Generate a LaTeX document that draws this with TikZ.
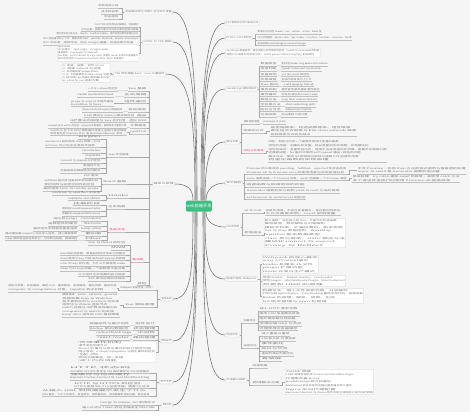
\documentclass[tikz,border=0pt]{standalone}
\usepackage{fontspec}
\setmainfont{Noto Sans CJK SC}
\usepackage{graphicx}
\definecolor{bgc}{HTML}{F5F5F5}
\definecolor{txc}{HTML}{767676}
\definecolor{crvc}{HTML}{707070}
\definecolor{cnc}{HTML}{A8A8A8}
\definecolor{ulc}{HTML}{C0C0C0}
\definecolor{bxc}{HTML}{CDCDCD}
\definecolor{ctrg}{HTML}{3DBE83}
\definecolor{redt}{HTML}{E8406E}
\newcommand\T[2]{\resizebox{#1pt}{1.9pt}{#2}}
\newcommand\LR[4]{\node[lf,anchor=west] (#1) at (#2) {\T{#3}{#4}};}
\newcommand\LL[4]{\node[lf,anchor=east] (#1) at (#2) {\T{#3}{#4}};}
\newcommand\cc[3]{\draw[cn] (#1) -- ++(#3,0) |- (#2);}
\newcommand\cv[4]{\draw[crv] (#1) .. controls +(0,#3) and +(#4,0) .. (#2);}
\begin{document}
\begin{tikzpicture}[x=1pt,y=-1pt,
 lf/.style={font=\fontsize{3}{3.6}\selectfont, text=txc, inner xsep=0.4pt, inner ysep=0.5pt, align=left,
   append after command={(\tikzlastnode.south west) edge[ul] (\tikzlastnode.south east)}},
 ul/.style={draw=ulc, line width=0.3pt},
 ctr/.style={fill=ctrg, rounded corners=1.5pt, text=white, font=\fontsize{4.2}{5}\selectfont, minimum width=25pt, minimum height=11pt, inner sep=0.5pt},
 l1/.style={draw=bxc, fill=white, rounded corners=1pt, line width=0.3pt, inner xsep=1.2pt, inner ysep=0.9pt, font=\fontsize{3}{3.6}\selectfont, text=txc, align=left},
 bx/.style={draw=bxc, fill=white, rounded corners=0.6pt, line width=0.25pt, inner sep=0.8pt, font=\fontsize{3}{3.6}\selectfont, text=txc, align=left},
 cn/.style={draw=cnc, line width=0.3pt},
 crv/.style={draw=crvc, line width=0.55pt}]
\fill[white] (0,0) rectangle (474,417);
\useasboundingbox (0,0) rectangle (474,417);
\fill[bgc] (0,0) rectangle (470,412);

\node[ctr] (c) at (199,206) {web前端开发};

% ---------------- right level 1
\node[l1,anchor=west] (R1) at (225,23) {\T{32}{CSS 盒模型与常见布局方式}};
\node[l1,anchor=west] (R2) at (225,38) {\T{25}{HTML5 / CSS3 新特性}};
\node[l1,anchor=west] (R3) at (225,53) {\T{93}{JavaScript 数据类型：基本类型与引用类型的区别，typeof 与 instanceof 的判断}\\\T{88}{深拷贝与浅拷贝的实现方式，JSON.parse(JSON.stringify()) 的局限性}};
\node[l1,anchor=west] (R4) at (225,89) {\T{30}{JavaScript 基础知识}};
\node[l1,anchor=west] (R5) at (225,142) {\T{12}{面向对象}};
\node[l1,anchor=west] (R6) at (225,183) {\T{15}{异步编程}};
\node[l1,anchor=west] (R7) at (225,227) {\T{13}{ES6 新特性}};
\node[l1,anchor=west] (R8) at (225,279) {\T{30}{前端工程化 Webpack}};
\node[l1,anchor=west] (R9) at (225,335) {\T{12}{性能优化}};
\node[l1,anchor=west] (R10) at (225,380) {\T{19}{浏览器与网络}};

% ---------------- left level 1
\node[l1,anchor=east] (L1) at (173,12) {\T{46}{前端面试常见问题汇总与知识储备}};
\node[l1,anchor=east] (L2) at (173,42) {\T{28}{HTML 与 CSS 基础}};
\node[l1,anchor=east] (L3) at (166,74) {\T{50}{CSS 预处理器 Sass、Less 与兼容性}};
\node[l1,anchor=east] (L4) at (175,184) {\T{20}{框架与原理}};
\node[l1,anchor=east] (L5) at (173,299) {\T{10}{Vue}};
\node[l1,anchor=east] (L6) at (173,341) {\T{10}{React}};
\node[l1,anchor=east] (L7) at (173,382) {\T{11}{HTTP}};
\node[l1,anchor=east] (L8) at (173,405) {\T{9}{其他}};

% ---------------- main curves
\cv{[xshift=2pt]c.north}{R1.west}{-124}{-18}
\cv{[xshift=3pt]c.north}{R2.west}{-113}{-18}
\cv{[xshift=4pt]c.north}{R3.west}{-103}{-18}
\cv{[xshift=5pt]c.north}{R4.west}{-78}{-18}
\cv{[xshift=6pt]c.north}{R5.west}{-41}{-15}
\cv{[xshift=7pt]c.north}{R6.west}{-12}{-10}
\cv{[xshift=7pt]c.south}{R7.west}{11}{-10}
\cv{[xshift=6pt]c.south}{R8.west}{47}{-18}
\cv{[xshift=5pt]c.south}{R9.west}{86}{-18}
\cv{[xshift=4pt]c.south}{R10.west}{118}{-18}
\cv{[xshift=-2pt]c.north}{L1.east}{-132}{18}
\cv{[xshift=-3pt]c.north}{L2.east}{-111}{18}
\cv{[xshift=-4pt]c.north}{L3.east}{-89}{24}
\cv{[xshift=-6pt]c.north}{L4.east}{-12}{12}
\cv{[xshift=-6pt]c.south}{L5.east}{61}{18}
\cv{[xshift=-4pt]c.south}{L6.east}{91}{18}
\cv{[xshift=-3pt]c.south}{L7.east}{119}{18}
\cv{[xshift=-2pt]c.south}{L8.east}{135}{18}

% ---------------- R2
\LR{r2a}{257,32}{64}{新增语义化标签 header、nav、section、article、footer 等}
\LR{r2b}{257,38}{94}{CSS3 新增属性：border-radius、box-shadow、transform、transition、animation、flex 等}
\LR{r2c}{257,43.5}{48}{本地存储 localStorage 与 sessionStorage}
\foreach \n in {a,b,c} {\cc{R2.east}{r2\n.south west}{2}}

% ---------------- R4
\LR{r4a}{260,64}{16}{数据类型} \LR{r4a2}{281,64}{46}{基本类型 Number String Boolean Null Undefined}
\LR{r4b}{260,69.1}{16}{类型判断} \LR{r4b2}{281,69.1}{40}{typeof instanceof constructor}
\LR{r4c}{260,74.2}{16}{变量声明} \LR{r4c2}{281,74.2}{28}{var let const 的区别}
\LR{r4d}{260,79.3}{16}{作用域链} \LR{r4d2}{281,79.3}{30}{词法作用域 执行上下文}
\LR{r4e}{260,84.4}{18}{this 指向} \LR{r4e2}{283,84.4}{30}{call apply bind}
\LR{r4f}{260,89.5}{16}{事件机制} \LR{r4f2}{281,89.5}{38}{事件冒泡 事件捕获 事件委托}
\LR{r4g}{260,94.6}{16}{事件循环} \LR{r4g2}{281,94.6}{36}{宏任务 微任务 Event Loop}
\LR{r4h}{260,99.7}{16}{数组方法} \LR{r4h2}{281,99.7}{36}{map filter reduce forEach}
\LR{r4i}{260,104.8}{20}{字符串方法} \LR{r4i2}{285,104.8}{30}{slice substring split}
\LR{r4j}{260,109.9}{20}{防抖与节流} \LR{r4j2}{285,109.9}{26}{debounce throttle}
\LR{r4k}{260,115}{16}{垃圾回收} \LR{r4k2}{281,115}{26}{标记清除 引用计数}
\foreach \n in {a,b,c,d,e,f,g,h,i,j,k} {\cc{R4.east}{r4\n.south west}{1.3}
  \draw[cn] (r4\n.south east) -- (r4\n2.south west);}

% ---------------- R5
\LR{r5a}{243,122}{16}{原型链} \LR{r5a2}{263,122}{22}{prototype 与 proto}
\LR{r5b}{243,131}{20}{继承的方式}
\node[lf,anchor=west] (r5b2) at (270,131) {\T{80}{原型链继承、构造函数继承、组合继承}\\\T{86}{寄生组合式继承与 ES6 class extends 继承}\\\T{40}{各种继承方式的优缺点}};
\node[lf,anchor=west,text=redt] (r5c) at (243,151) {\T{20}{闭包与作用域}};
\node[lf,anchor=west] (r5c2) at (268,151) {\T{70}{闭包：有权访问另一个函数作用域中变量的函数}\\\T{100}{闭包的用途：创建私有变量、延长变量的生命周期、实现模块化}\\\T{118}{闭包的缺点：变量常驻内存，使用不当会造成内存泄漏，需要手动释放引用}\\\T{92}{经典面试题：for 循环中使用 setTimeout 输出 i 的值的问题}\\\T{90}{解决方法：使用 let 声明或立即执行函数 IIFE 创建作用域}\\\T{60}{柯里化函数的实现原理}};
\foreach \n in {a,b,c} {\cc{R5.east}{r5\n.south west}{1.5}}
\draw[cn] (r5a.south east) -- (r5a2.south west);
\cc{r5b.south east}{r5b2.west}{2}
\cc{r5c.south east}{r5c2.west}{2}

% ---------------- R6
\node[lf,anchor=west] (r6a) at (246,170.5) {\T{100}{Promise 的三种状态 pending、fulfilled、rejected 及状态改变}\\\T{98}{Promise.all 与 Promise.race 的使用场景与实现原理分析}};
\node[lf,anchor=west] (r6a2) at (357,170.5) {\T{108}{手写 Promise：实现 then 方法的链式调用与值穿透的处理}\\\T{82}{async 与 await 是 Generator 函数的语法糖}};
\LR{r6b}{246,178.5}{100}{async 函数返回一个 Promise 对象，await 后面跟一个 Promise 或值}
\node[lf,anchor=west] (r6b2) at (352,178.5) {\T{107}{错误处理：try catch 捕获 await 的异常，或使用 catch 方法}\\\T{98}{多个请求并发执行时使用 Promise.all 提高效率}};
\LR{r6c}{246,185}{58}{回调函数与回调地狱的问题}
\LR{r6d}{246,191}{93}{Generator 函数的执行机制 yield 与 next 方法的使用}
\LR{r6e}{246,197.5}{59}{setTimeout 与 setInterval 的区别}
\foreach \n in {a,b,c,d,e} {\cc{R6.east}{r6\n.south west}{1}}
\draw[cn] (r6a.south east) -- ++(2,0) |- (r6a2.west);
\draw[cn] (r6b.south east) -- ++(2,0) |- (r6b2.west);

% ---------------- R7
\LR{r7a}{244,211}{17}{let 与 const}
\node[lf,anchor=west] (r7a2) at (265,212) {\T{75}{块级作用域，不存在变量提升，存在暂时性死区}\\\T{70}{不允许重复声明，const 声明常量}};
\LR{r7b}{244,233}{17}{新增语法}
\node[bx,anchor=west] (r7b2) at (264,233) {\T{72}{箭头函数：没有自己的 this，不能作为构造函数}\\\T{60}{解构赋值：数组解构与对象解构}\\\T{78}{模板字符串、扩展运算符、剩余参数}\\\T{66}{Set 与 Map 数据结构，WeakMap}\\\T{55}{Symbol 基本数据类型}\\\T{80}{class 类与继承，static 静态方法}\\\T{70}{模块化 import 与 export}\\\T{58}{Proxy 与 Reflect}};
\foreach \n in {a,b} {\cc{R7.east}{r7\n.south west}{1.5}}
\cc{r7a.south east}{r7a2.west}{2}
\cc{r7b.south east}{r7b2.west}{1.5}

% ---------------- R8
\node[bx,anchor=west] (r8a) at (262,264.5) {\T{55}{Webpack 的核心概念}\\\T{45}{entry 入口 output 输出}\\\T{50}{loader 处理非 JS 文件}\\\T{40}{plugin 扩展功能}\\\T{52}{mode 开发与生产模式}};
\node[bx,anchor=west] (r8b) at (262,281) {\T{70}{常用 loader：babel-loader、css-loader}\\\T{82}{常用 plugin：HtmlWebpackPlugin、MiniCssExtract}\\\T{60}{热更新 HMR 的原理}};
\node[bx,anchor=west] (r8c) at (262,296) {\T{85}{构建优化：缩小文件搜索范围、开启缓存}\\\T{100}{代码分割 SplitChunks、Tree Shaking 删除无用代码、按需加载}\\\T{72}{Babel 的原理：解析、转换、生成}\\\T{64}{Git 版本管理与 npm 包管理}};
\foreach \n in {a,b,c} {\cc{R8.east}{r8\n.west}{2}}

% ---------------- R9
\LR{r9a}{243,321}{12}{加载优化}
\LR{r9a1}{259,309}{38}{减少 HTTP 请求次数}
\LR{r9a2}{259,314}{40}{使用 CDN 加速静态资源}
\LR{r9a3}{259,319}{36}{图片懒加载与预加载}
\LR{r9a4}{259,324}{42}{资源压缩 Gzip 与合并}
\LR{r9a5}{259,328.5}{38}{合理使用浏览器缓存}
\LR{r9b}{243,346}{13}{渲染优化}
\LR{r9b1}{261,334}{28}{减少重排与重绘}
\LR{r9b2}{261,339}{34}{CSS 放头部 JS 放底部}
\LR{r9b3}{261,344}{22}{事件委托}
\LR{r9b4}{261,349}{26}{防抖与节流}
\LR{r9b5}{261,354}{32}{虚拟列表长列表优化}
\LR{r9b6}{261,359}{20}{骨架屏}
\foreach \n in {a,b} {\cc{R9.east}{r9\n.south west}{1.5}}
\foreach \n in {1,2,3,4,5} {\cc{r9a.south east}{r9a\n.south west}{1.5}}
\foreach \n in {1,2,3,4,5,6} {\cc{r9b.south east}{r9b\n.south west}{1.5}}

% ---------------- R10
\LR{r10a}{252,366}{15}{同源策略}
\LR{r10b}{252,383}{27}{跨域解决方案}
\node[bx,anchor=west] (r10b2) at (285,382) {\T{25}{JSONP 原理}\\\T{68}{CORS 跨域资源共享 Access-Control-Allow-Origin}\\\T{34}{代理服务器 proxy}\\\T{45}{postMessage 跨文档通信}\\\T{66}{WebSocket 协议实现浏览器与服务器全双工通信}\\\T{50}{Nginx 反向代理配置}\\\T{87}{document.domain 与 iframe 结合实现主域相同子域不同的跨域}};
\foreach \n in {a,b} {\cc{R10.east}{r10\n.south west}{2}}
\cc{r10b.south east}{r10b2.west}{2}

% ---------------- L1
\LL{l1a}{119,6}{20}{项目经验介绍}
\LL{l1b}{119,12}{17}{技术栈说明}
\LL{l1c}{119,17}{14}{职业规划}
\foreach \n in {a,b,c} {\cc{L1.west}{l1\n.south east}{-2}}

% ---------------- L2
\LL{l2a}{139,25}{43}{DOCTYPE 的作用与标准模式、怪异模式}
\LL{l2b}{139,29.5}{57}{行内元素、块级元素与行内块元素的区别与转换}
\LL{l2c}{139,34}{82}{清除浮动的几种方法：clearfix、overflow hidden、额外标签法等的原理与对比}
\node[lf,anchor=east] (l2d) at (139,41) {\T{95}{BFC 块级格式化上下文：触发条件 float、position absolute、display inline-block}\\\T{90}{BFC 的应用：清除浮动、防止 margin 重叠、自适应两栏布局}};
\node[bx,anchor=east,font=\fontsize{3}{3.1}\selectfont] (l2e) at (139,53) {\T{12}{居中布局}\\\T{50}{水平居中：text-align、margin auto}\\\T{40}{垂直居中：line-height 与 table-cell}\\\T{80}{flex 布局：justify-content 与 align-items 设置为 center 实现水平垂直居中}\\\T{66}{绝对定位结合 transform translate(-50\%,-50\%) 实现居中}};
\foreach \n in {a,b,c,d} {\cc{L2.west}{l2\n.south east}{-2}}
\cc{L2.west}{l2e.east}{-2}

% ---------------- L3
\node[bx,anchor=east,font=\fontsize{3}{3.1}\selectfont] (l3a) at (110,73) {\T{41}{1. 变量、嵌套、混合 mixin}\\\T{38}{2. 继承 extend 与运算}\\\T{35}{3. 浏览器前缀 autoprefixer}\\\T{46}{4. IE 下的盒模型与 box-sizing 问题}\\\T{46}{5. 移动端 1px 边框问题的解决方法}\\\T{36}{6. rem 与 vw 适配方案}};
\cc{L3.west}{l3a.east}{-2}

% ---------------- L4
\LL{l4a}{147,89}{18}{Vue 基础} \LL{l4a2}{118,89}{29}{v-if 与 v-show 的区别}
\LL{l4b}{147,95}{22}{生命周期} \LL{l4b2}{114,95}{36}{created mounted destroyed}
\LL{l4c}{147,101.5}{22}{组件通信}
\node[lf,anchor=east] (l4c2) at (114,103) {\T{42}{props 与 emit 父子组件通信}\\\T{30}{EventBus 与 Vuex}};
\LL{l4d}{147,110}{18}{双向绑定} \LL{l4d2}{123,110}{40}{Object.defineProperty 数据劫持}
\LL{l4e}{147,115.5}{9}{路由} \LL{l4e2}{135,115.5}{50}{hash 模式与 history 模式的区别}
\LL{l4f}{147,120.5}{17}{虚拟 DOM} \LL{l4f2}{126,120.5}{55}{diff 算法的原理与 key 的作用}
\LL{l4g}{147,126}{16}{计算属性} \LL{l4g2}{127,126}{78}{computed 与 watch 的区别：computed 有缓存，依赖改变才重新计算}
\LL{l4h}{147,132}{16}{nextTick}
\node[lf,anchor=east] (l4h2) at (127,132) {\T{76}{nextTick 在下次 DOM 更新循环结束之后执行延迟回调}\\\T{72}{利用微任务 Promise.then 或 MutationObserver 实现}};
\LL{l4i}{129,155}{20}{Vuex 状态管理}
\LL{l4i1}{101,137}{22}{state getters}
\node[lf,anchor=east] (l4i2) at (101,143.5) {\T{55}{mutations 同步修改 state 的唯一方法}\\\T{50}{actions 可以包含任意异步操作}};
\LL{l4i3}{101,151}{18}{modules}
\LL{l4i4}{101,156}{15}{mapState}
\LL{l4i5}{101,161}{40}{commit 与 dispatch 的区别}
\LL{l4i6}{101,166}{17}{数据持久化}
\LL{l4i7}{101,171}{40}{页面刷新后数据丢失的解决}
\LL{l4j}{127,182}{23}{React 基础}
\LL{l4j1}{99,176}{15}{JSX 语法}
\node[lf,anchor=east] (l4j2) at (99,182.5) {\T{54}{setState 是同步还是异步的问题分析}\\\T{50}{受控组件与非受控组件的区别}};
\LL{l4j3}{99,189}{55}{高阶组件 HOC 与 render props}
\LL{l4k}{129,196}{20}{Hooks}
\LL{l4k1}{101,193}{48}{useState 与 useEffect 的使用}
\LL{l4k2}{101,198.5}{32}{useMemo useCallback}
\LL{l4l}{126,207}{17}{生命周期}
\LL{l4l1}{101,203.5}{27}{挂载阶段}
\LL{l4l2}{101,209}{38}{更新阶段 shouldComponentUpdate}
\LL{l4l3}{101,214}{38}{卸载阶段 componentWillUnmount}
\node[lf,anchor=east,text=redt] (l4m) at (126,230) {\T{16}{性能优化}};
\LL{l4m1}{102,219}{20}{PureComponent} \LL{l4m12}{78,219}{24}{浅比较 props}
\LL{l4m2}{102,224}{17}{React.memo} \LL{l4m22}{78,224}{29}{函数组件的缓存}
\LL{l4m3}{102,229}{20}{keep-alive} \LL{l4m32}{78,229}{44}{缓存组件实例避免重复渲染}
\LL{l4m4}{102,234}{16}{懒加载} \LL{l4m42}{78,234}{72}{路由懒加载 import() 动态导入组件，减少首屏体积}
\LL{l4m5}{102,238.5}{16}{Fiber} \LL{l4m52}{78,238.5}{72}{Fiber 架构将渲染任务拆分，可中断与恢复，提高响应}
\node[lf,anchor=east,text=redt] (l4n) at (144,260) {\T{11}{面试题}};
\LL{l4n1}{126,243}{37}{Vue 与 React 的区别}
\LL{l4n2}{126,248}{14}{MVVM}
\LL{l4n3}{126,253.5}{65}{Vue 响应式原理：数据劫持结合发布订阅模式}
\LL{l4n4}{126,258.7}{65}{Vue3 使用 Proxy 代替 defineProperty 的原因}
\LL{l4n5}{126,263.8}{65}{v-for 中 key 的作用，为什么不推荐用 index}
\LL{l4n6}{126,269}{65}{data 为什么必须是一个函数而不是对象}
\LL{l4n7}{126,274.3}{47}{父子组件生命周期的执行顺序}
\LL{l4n8}{126,279}{37}{SPA 单页应用的优缺点}
\LL{l4o}{147,283.5}{9}{其他}
\foreach \n in {a,b,c,d,e,f,g,h,i,j,k,l,m,n,o} {\cc{L4.west}{l4\n.south east}{-3.6}}
\foreach \n in {a,b,d,e,f,g} {\draw[cn] (l4\n.south west) -- (l4\n2.south east);}
\cc{l4c.south west}{l4c2.east}{-2}
\cc{l4h.south west}{l4h2.east}{-1}
\foreach \n in {1,2,3,4,5,6,7} {\cc{l4i.south west}{l4i\n.south east}{-2}}
\foreach \n in {1,2,3} {\cc{l4j.south west}{l4j\n.south east}{-2}}
\foreach \n in {1,2} {\cc{l4k.south west}{l4k\n.south east}{-2}}
\foreach \n in {1,2,3} {\cc{l4l.south west}{l4l\n.south east}{-2}}
\foreach \n in {1,2,3,4,5} {\cc{l4m.south west}{l4m\n.south east}{-2}
  \draw[cn] (l4m\n.south west) -- (l4m\n2.south east);}
\foreach \n in {1,2,3,4,5,6,7,8} {\cc{l4n.south west}{l4n\n.south east}{-2}}

% ---------------- L5
\LL{l5a}{155,288}{34}{Webpack 构建流程（常考）}
\node[lf,anchor=east] (l5a2) at (117,288) {\T{108}{初始化参数、开始编译、确定入口、编译模块、完成编译、输出资源、输出完成}\\\T{95}{compiler 与 compilation 对象，tapable 钩子机制}};
\LL{l5b}{155,305}{29}{Vue 源码原理}
\node[lf,anchor=east,font=\fontsize{3}{3.3}\selectfont] (l5b2) at (120,305) {\T{55}{模板编译：parse、optimize、generate}\\\T{50}{依赖收集 Dep 与 Watcher}\\\T{57}{异步更新队列与 nextTick 的实现}\\\T{45}{组件化与 VNode 虚拟节点}\\\T{55}{patch 过程与 diff 算法双端比较}\\\T{52}{computed 与 watch 的实现}\\\T{57}{keep-alive 组件的 LRU 缓存策略}};
\foreach \n in {a,b} {\cc{L5.west}{l5\n.south east}{-3}}
\draw[cn] (l5a.south west) -- ++(-2,0) |- (l5a2.east);
\draw[cn] (l5b.south west) -- ++(-2,0) |- (l5b2.east);

% ---------------- L6
\LL{l6a}{156,324}{20}{组件设计} \LL{l6a2}{130,324}{40}{容器组件与展示组件}
\LL{l6b}{156,328.5}{22}{状态管理} \LL{l6b2}{129,328.5}{39}{Redux 单向数据流}
\LL{l6c}{156,333}{18}{中间件} \LL{l6c2}{132,333}{35}{redux-thunk saga}
\LL{l6d}{156,338}{22}{路由管理} \LL{l6d2}{130,338}{32}{react-router}
\node[bx,anchor=east,font=\fontsize{3}{3}\selectfont] (l6e) at (156,352) {\T{42}{合成事件机制}\\\T{28}{事件委托到根节点}\\\T{72}{React 的事件与原生事件的执行顺序问题}\\\T{76}{阻止冒泡：e.stopPropagation 与原生事件的区别}\\\T{20}{优点}\\\T{44}{跨浏览器兼容，统一处理}\\\T{38}{减少内存消耗}};
\foreach \n in {a,b,c,d} {\cc{L6.west}{l6\n.south east}{-2.6}
  \draw[cn] (l6\n.south west) -- (l6\n2.south east);}
\cc{L6.west}{l6e.east}{-2.6}

% ---------------- L7
\node[lf,anchor=east,font=\fontsize{3}{3.3}\selectfont] (l7a) at (150,369.5) {\T{60}{HTTP 状态码}\\\T{79}{200 成功 301 永久重定向 302 临时重定向 304 协商缓存}};
\node[lf,anchor=east,font=\fontsize{3}{3.3}\selectfont] (l7b) at (150,376.5) {\T{60}{强缓存与协商缓存}\\\T{79}{Expires Cache-Control 与 Last-Modified ETag}};
\node[lf,anchor=east,font=\fontsize{3}{3.3}\selectfont] (l7c) at (150,385) {\T{66}{HTTP 与 HTTPS 的区别}\\\T{75}{HTTPS 使用 SSL/TLS 加密传输，需要 CA 证书}};
\node[lf,anchor=east,font=\fontsize{3}{3.3}\selectfont] (l7d) at (150,392.5) {\T{104}{从输入 URL 到页面展示发生了什么}\\\T{107}{DNS 解析、TCP 三次握手、发送请求、服务器响应、浏览器解析渲染页面、断开连接}};
\foreach \n in {a,b,c,d} {\cc{L7.west}{l7\n.south east}{-3}}

% ---------------- L8
\LL{l8a}{156,403}{23}{Git 常用命令} \LL{l8a2}{131,403}{30}{merge 与 rebase}
\LL{l8b}{156,408}{32}{前端安全 XSS CSRF} \LL{l8b2}{123,408}{40}{输入过滤与 Token 验证}
\foreach \n in {a,b} {\cc{L8.west}{l8\n.south east}{-3}
  \draw[cn] (l8\n.south west) -- (l8\n2.south east);}
\end{tikzpicture}
\end{document}
